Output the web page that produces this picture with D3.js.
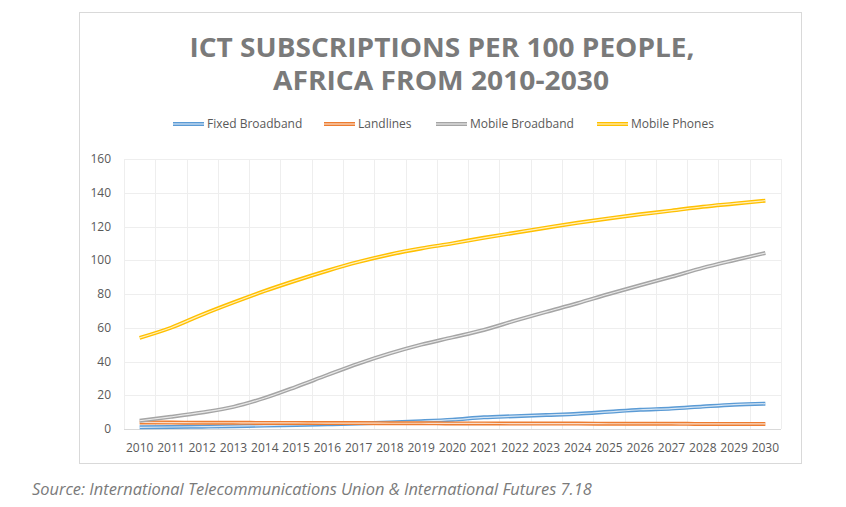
<!DOCTYPE html>
<meta charset="utf-8">
<title>ICT subscriptions Africa</title>
<style>
body{margin:0;background:#fff;}
svg text{font-family:"Open Sans",sans-serif;}
.grid line{stroke:#eeeeee;stroke-width:1;shape-rendering:crispEdges;}
.ylab,.xlab,.leg{fill:#595959;font-size:12px;}
</style>
<body>
<script src="https://d3js.org/d3.v7.min.js"></script>
<script>
// data
var years = d3.range(2010, 2031);
var seriesNames = ["Fixed Broadband", "Landlines", "Mobile Broadband", "Mobile Phones"];
var fixedBroadband = [1.0,1.2,1.4,1.7,2.0,2.4,2.8,3.3,3.9,4.6,5.5,6.9,7.6,8.3,9.0,10.2,11.4,12.1,13.3,14.4,15.0];
var landlines = [3.9,3.8,3.7,3.7,3.6,3.6,3.5,3.5,3.4,3.4,3.3,3.3,3.2,3.2,3.2,3.1,3.1,3.1,3.0,3.0,3.0];
var mobileBroadband = [4.9,7.2,9.8,13.1,18.4,25,32,38.8,44.8,50,54.3,58.7,64.2,69.4,74.5,80,85.2,90.2,95.5,100,104.3];
var mobilePhones = [54,60,67.8,75,81.8,88,93.8,99,103.4,107,110,113.3,116.3,119.3,122.2,124.8,127.2,129.4,131.7,133.5,135.3];
var colors = ["#5b9bd5", "#ed7d31", "#a5a5a5", "#ffc000"];
var yTicks = [0,20,40,60,80,100,120,140,160];
var titleLines = ["ICT SUBSCRIPTIONS PER 100 PEOPLE,", "AFRICA FROM 2010-2030"];

var allSeries = [fixedBroadband, landlines, mobileBroadband, mobilePhones];

var W = 846, H = 507;
var svg = d3.select("body").append("svg").attr("width", W).attr("height", H);

// chart frame
svg.append("rect").attr("x", 79.5).attr("y", 12.5).attr("width", 722).attr("height", 451)
  .attr("fill", "#fff").attr("stroke", "#d9d9d9");

var plotL = 124, plotR = 781, plotT = 159, plotB = 429;

var x = d3.scaleBand().domain(years).range([plotL, plotR]);
var y = d3.scaleLinear().domain([0, 160]).range([plotB, plotT]);

var grid = svg.append("g").attr("class", "grid");
// vertical gridlines at category boundaries
grid.selectAll("line.v").data(years.concat([null])).enter().append("line").attr("class","v")
  .attr("x1", (d,i) => Math.round(plotL + i * x.step()) + 0.5)
  .attr("x2", (d,i) => Math.round(plotL + i * x.step()) + 0.5)
  .attr("y1", plotT).attr("y2", plotB);
grid.selectAll("line.h").data(yTicks).enter().append("line").attr("class","h")
  .attr("x1", plotL).attr("x2", plotR)
  .attr("y1", d => Math.round(y(d)) + 0.5).attr("y2", d => Math.round(y(d)) + 0.5);

// baseline
svg.append("line").attr("x1", plotL).attr("x2", plotR)
  .attr("y1", plotB + 0.5).attr("y2", plotB + 0.5)
  .attr("stroke", "#d9d9d9");

svg.selectAll("text.ylab").data(yTicks).enter().append("text").attr("class","ylab")
  .attr("x", 111).attr("y", d => y(d)).attr("dy", "0.35em")
  .attr("text-anchor", "end").text(d => d);

svg.selectAll("text.xlab").data(years).enter().append("text").attr("class","xlab")
  .attr("x", d => x(d) + x.bandwidth()/2).attr("y", 452)
  .attr("text-anchor", "middle").text(d => d);

// double lines (Excel compound style)
var line = d3.line()
  .x((d,i) => x(years[i]) + x.bandwidth()/2)
  .y(d => y(d))
  .curve(d3.curveMonotoneX);

allSeries.forEach(function(s, k){
  svg.append("path").attr("d", line(s)).attr("fill", "none")
    .attr("stroke", colors[k]).attr("stroke-width", 4).attr("stroke-linejoin", "round");
  svg.append("path").attr("d", line(s)).attr("fill", "none")
    .attr("stroke", "#fff").attr("stroke-opacity", 0.75).attr("stroke-width", 1.2);
});

// legend
var legX = [173, 324, 436, 597];
var leg = svg.selectAll("g.leg").data(seriesNames).enter().append("g")
  .attr("transform", (d,i) => "translate(" + legX[i] + ",124)");
leg.append("line").attr("x1", 0).attr("x2", 31).attr("y1", 0).attr("y2", 0)
  .attr("stroke", (d,i) => colors[i]).attr("stroke-width", 4);
leg.append("line").attr("x1", 0).attr("x2", 31).attr("y1", 0).attr("y2", 0)
  .attr("stroke", "#fff").attr("stroke-opacity", 0.75).attr("stroke-width", 1.2);
leg.append("text").attr("class", "leg").attr("x", 34).attr("dy", "0.35em").text(d => d);

// title, one text element with two lines
var title = svg.append("text").attr("text-anchor", "middle")
  .attr("fill", "#7a7a7a").attr("font-weight", "bold").attr("font-size", 27);
title.selectAll("tspan").data(titleLines).enter().append("tspan")
  .attr("x", (d,i) => i == 0 ? 442 : 441)
  .attr("y", (d,i) => i == 0 ? 57 : 90)
  .attr("textLength", (d,i) => i == 0 ? 505 : 336)
  .attr("lengthAdjust", "spacingAndGlyphs")
  .text(d => d);

// source note
svg.append("text").attr("x", 32).attr("y", 495)
  .attr("fill", "#7a7a7a").attr("font-style", "italic").attr("font-size", 16.4)
  .text("Source: International Telecommunications Union & International Futures 7.18");
</script>
</body>
